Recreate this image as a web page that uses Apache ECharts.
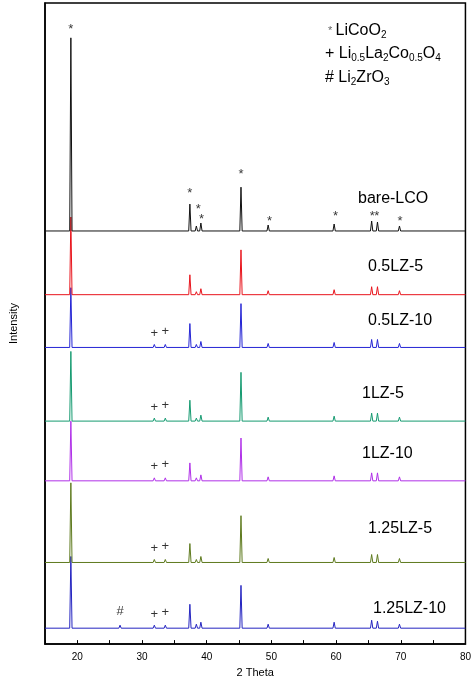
<!DOCTYPE html>
<html><head><meta charset="utf-8">
<script src="https://cdn.jsdelivr.net/npm/echarts@6/dist/echarts.min.js"></script>
<style>html,body{margin:0;padding:0;background:#fff}#c{width:474px;height:683px}</style>
</head><body><div id="c"></div>
<script>
var peakPos = [19.0, 26.6, 31.9, 33.6, 37.4, 38.4, 39.1, 45.3, 49.5, 59.7, 65.5, 66.4, 69.8];
var seriesNames = ['bare-LCO','0.5LZ-5','0.5LZ-10','1LZ-5','1LZ-10','1.25LZ-5','1.25LZ-10'];
var baselines = [415, 351, 298, 224, 164, 82, 16];
var hBare   = [194, 0, 0, 0, 27, 5, 8, 44, 6, 7, 10, 9, 5];
var hR05_5  = [78, 0, 0, 0, 20, 3, 6, 45, 4, 5, 8, 8, 4];
var hR05_10 = [60, 0, 3, 3, 24, 3, 6, 44, 4, 5, 8, 8, 4];
var hR1_5   = [70, 0, 3, 3, 21, 3, 6, 49, 4, 5, 8, 8, 4];
var hR1_10  = [60, 0, 3, 3, 18, 3, 6, 43, 4, 5, 8, 8, 4];
var hR125_5 = [80, 0, 3, 3, 19, 3, 6, 47, 4, 5, 8, 8, 4];
var hR125_10= [72, 3, 3, 3, 24, 4, 6, 43, 4, 6, 8, 7, 4];
var heights = [hBare,hR05_5,hR05_10,hR1_5,hR1_10,hR125_5,hR125_10];
var colors = ['#111111','#e8141c','#2424d4','#159a70','#b030e8','#5e7a1e','#2424c0'];
var starX = [19.0, 37.4, 38.7, 39.2, 45.3, 49.7, 59.9, 65.6, 66.3, 69.9];
var starY = [617, 453, 437, 427, 472, 425, 430, 430, 430, 425];
var plusMarks = [[31.9, 2, 312],[33.6, 2, 314],[31.9,3,238],[33.6,3,240],[31.9,4,178],[33.6,4,180],[31.9,5,96],[33.6,5,98],[31.9,6,30],[33.6,6,32]];
var hashMark = [26.6, 33];
var sampleLabelPos = [[358,200],[368,268],[368,322],[362,395],[362,455],[368,530],[373,610]];

var series = [];
seriesNames.forEach(function(n, i){
  var b = baselines[i], d = [[15, b]];
  peakPos.forEach(function(p, k){
    var h = heights[i][k];
    if (h > 0) { d.push([p - 0.18, b]); d.push([p, b + h]); d.push([p + 0.18, b]); }
  });
  d.push([80, b]);
  series.push({type:'line', name:n, data:d, symbol:'none', lineStyle:{color:colors[i], width:1}, silent:true, z:10-i});
});
series.push({type:'scatter', symbolSize:0, data: starX.map(function(x,i){return [x, starY[i]];}),
  label:{show:true, formatter:'*', color:'#000', fontSize:13, position:'inside'}});
series.push({type:'scatter', symbolSize:0, data: plusMarks.map(function(m){return [m[0], m[2]];}),
  label:{show:true, formatter:'+', color:'#000', fontSize:13, position:'inside'}});
series.push({type:'scatter', symbolSize:0, data: [[hashMark[0], hashMark[1]]],
  label:{show:true, formatter:'#', color:'#000', fontSize:13, position:'inside'}});

var graphics = [];
seriesNames.forEach(function(n,i){
  graphics.push({type:'text', left:sampleLabelPos[i][0], top:sampleLabelPos[i][1]-9,
    style:{text:n, fontSize:16, fill:'#000', font:'16px Arial, "Liberation Sans"'}});
});
var legRich = {n:{fontSize:16,fill:'#000'}, s:{fontSize:10, padding:[9,0,0,0]}, st:{fontSize:11, fill:'#666'}};
graphics.push({type:'text', left:328, top:23, style:{rich:legRich, text:'{st|*} {n|LiCoO}{s|2}', fontFamily:'Arial, Liberation Sans'}});
graphics.push({type:'text', left:325, top:46, style:{rich:legRich, text:'{n|+ Li}{s|0.5}{n|La}{s|2}{n|Co}{s|0.5}{n|O}{s|4}', fontFamily:'Arial, Liberation Sans'}});
graphics.push({type:'text', left:325, top:70, style:{rich:legRich, text:'{n|# Li}{s|2}{n|ZrO}{s|3}', fontFamily:'Arial, Liberation Sans'}});

var chart = echarts.init(document.getElementById('c'));
chart.setOption({
  animation:false,
  textStyle:{fontFamily:'Arial, "Liberation Sans"'},
  grid:{left:36, right:8, top:3, bottom:36, show:true, borderColor:'#000', borderWidth:1.5},
  xAxis:{type:'value', min:15, max:80, interval:5, name:'2 Theta', nameLocation:'middle', nameGap:22,
    nameTextStyle:{fontSize:11, color:'#000'},
    axisLine:{lineStyle:{color:'#000', width:1.5}}, axisTick:{inside:true, length:4, lineStyle:{color:'#000'}},
    axisLabel:{fontSize:10, color:'#000', formatter:function(v){return v%10===0?String(v):'';}}, splitLine:{show:false}},
  yAxis:{type:'value', min:0, max:644, name:'Intensity', nameLocation:'middle', nameGap:26,
    nameTextStyle:{fontSize:11, color:'#000'}, axisLine:{show:true, lineStyle:{color:'#000', width:1.5}},
    axisTick:{show:false}, axisLabel:{show:false}, splitLine:{show:false}},
  series:series,
  graphic:graphics
});
</script></body></html>
